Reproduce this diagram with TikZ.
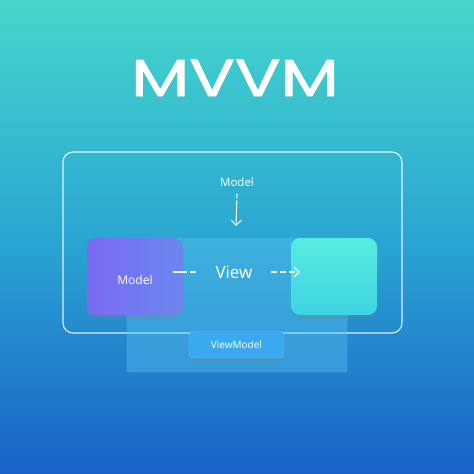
\documentclass[tikz,border=0pt]{standalone}
\usepackage{fontspec}
\setmainfont{Open Sans}
\newfontfamily\titlefont[FakeBold=1.4]{Poppins}
\usetikzlibrary{positioning,shadows,arrows.meta}

\definecolor{bgtop}{HTML}{46D6CC}
\definecolor{bgmid}{HTML}{2AA6D2}
\definecolor{bgbot}{HTML}{1A62C8}
\definecolor{modelA}{HTML}{7B6AF2}
\definecolor{modelB}{HTML}{6A86EE}
\definecolor{cyanA}{HTML}{58ECE0}
\definecolor{cyanB}{HTML}{3CD4E2}
\definecolor{panelblue}{HTML}{5CC4F2}
\definecolor{vmblue}{HTML}{3AAAF0}

\tikzset{
  card/.style={rounded corners=9pt, inner sep=0pt,
    drop shadow={opacity=0.22, shadow xshift=0pt, shadow yshift=-4pt}},
  flowline/.style={white, opacity=0.9, line width=1.1pt},
  label/.style={text=white, inner sep=1pt}
}

\begin{document}
\begin{tikzpicture}[x=1pt, y=-1pt]
\useasboundingbox (0,0) rectangle (474,474);
% background
\shade[top color=bgtop, bottom color=bgbot, middle color=bgmid] (0,0) rectangle (474,474);
% title
\node [label, font=\titlefont\fontsize{52}{52}\selectfont, anchor=base, xscale=1.3] (title) at (235,96) {MVVM};
% outer frame
\node [draw=white, draw opacity=0.85, line width=1.1pt, rounded corners=10pt,
  minimum width=339pt, minimum height=181pt] (frame) at (232.5,242.5) {};
% panel behind
\node [fill=panelblue, fill opacity=0.38, draw=white, draw opacity=0.25,
  rounded corners=2pt, minimum width=220pt, minimum height=134pt] (panel) at (237,305) {};
% boxes
\node [card, left color=modelA, right color=modelB, minimum width=96pt,
  minimum height=77pt] (model) at (135,276.5) {};
\node [label, font=\fontsize{12}{12}\selectfont] at ([yshift=-3pt]model.center) {Model};
\node [card, top color=cyanA, bottom color=cyanB, minimum width=86pt,
  minimum height=77pt] (viewbox) at (334,276.5) {};
\node [card, fill=vmblue, draw=white, draw opacity=0.3, rounded corners=4pt,
  minimum width=95pt, minimum height=27pt] (viewmodel) at (236.5,344.5) {};
\node [label, font=\fontsize{10}{10}\selectfont] at (viewmodel.center) {ViewModel};
% labels
\node [label, font=\fontsize{11.5}{11.5}\selectfont] (top) at (237,182) {Model};
\node [label, font=\fontsize{17}{17}\selectfont, minimum width=74pt] (view) at (234,272) {View};
\coordinate (down) at (236,226);
\coordinate (tip) at ([xshift=9pt]viewbox.west |- view.center);
% arrows
\draw [flowline, dash pattern=on 5pt off 2pt on 30pt, -{Straight Barb[length=5pt,width=10pt]}] ([yshift=-6pt]top.south) -- (down);
\draw [flowline, dash pattern=on 14pt off 3pt on 6pt off 3pt] ([xshift=-10pt]model.east |- view.center) -- (view.west);
\draw [flowline, dash pattern=on 6pt off 3pt, -{Straight Barb[length=5pt,width=10pt]}] (view.east) -- (tip);
\end{tikzpicture}
\end{document}
